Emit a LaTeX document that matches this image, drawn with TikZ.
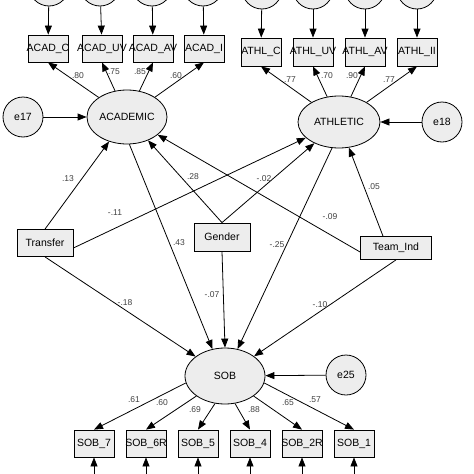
\documentclass[tikz,border=0pt]{standalone}
\usepackage{fontspec}
\setmainfont{Liberation Sans}
\usetikzlibrary{arrows.meta,shapes.geometric}
\begin{document}
\begin{tikzpicture}[x=1pt,y=-1pt,
  obs/.style={draw,line width=0.8pt,fill=black!7,rectangle,inner sep=0pt,minimum width=40pt,minimum height=27pt,font=\fontsize{10.5}{12}\selectfont},
  lat/.style={draw,line width=0.8pt,fill=black!7,ellipse,inner sep=0pt,font=\fontsize{10.5}{12}\selectfont},
  err/.style={draw,line width=0.8pt,fill=black!7,circle,inner sep=0pt,minimum size=40pt,font=\fontsize{10.5}{12}\selectfont},
  path/.style={line width=0.8pt,-{Triangle[length=9pt,width=7pt]}},
  coef/.style={font=\fontsize{8.5}{9}\selectfont,text=black!75,inner sep=0pt}]
\useasboundingbox (0,0) rectangle (474,474);
\clip (0,0) rectangle (474,474);
% latent variables
\node[lat,minimum width=80pt,minimum height=54pt] (acad) at (127,117) {ACADEMIC};
\node[lat,minimum width=82pt,minimum height=52pt] (athl) at (339,122) {ATHLETIC};
\node[lat,minimum width=80pt,minimum height=56pt] (sob) at (225,376) {SOB};
% error terms
\node[err] (e17) at (23,117) {e17};
\node[err] (e18) at (442,122) {e18};
\node[err] (e25) at (346,375) {e25};
% exogenous
\node[obs,minimum width=56pt] (transfer) at (45,243) {\makebox[0pt]{Transfer}};
\node[obs,minimum width=56pt,minimum height=28pt] (gender) at (222,237) {\makebox[0pt]{Gender}};
\node[obs,minimum width=71pt,minimum height=23pt] (team) at (396,248) {\makebox[0pt]{Team\_Ind}};
% ACAD indicators
\node[obs] (ac) at (48,48.5) {\makebox[0pt]{ACAD\_C}};
\node[obs] (auv) at (102,48.5) {\makebox[0pt]{ACAD\_UV}};
\node[obs] (aav) at (153,48.5) {\makebox[0pt]{ACAD\_AV}};
\node[obs] (ai) at (204,48.5) {\makebox[0pt]{ACAD\_I}};
% ATHL indicators
\node[obs,minimum height=28pt] (tc) at (261,52) {\makebox[0pt]{ATHL\_C}};
\node[obs,minimum height=28pt] (tuv) at (313,52) {\makebox[0pt]{ATHL\_UV}};
\node[obs,minimum height=28pt] (tav) at (365,52) {\makebox[0pt]{ATHL\_AV}};
\node[obs,minimum height=28pt] (tii) at (417,52) {\makebox[0pt]{ATHL\_II}};
% SOB indicators
\node[obs] (s7) at (94,443.5) {\makebox[0pt]{SOB\_7}};
\node[obs] (s6) at (146,443.5) {\makebox[0pt]{SOB\_6R}};
\node[obs] (s5) at (198,443.5) {\makebox[0pt]{SOB\_5}};
\node[obs] (s4) at (250,443.5) {\makebox[0pt]{SOB\_4}};
\node[obs] (s2) at (302,443.5) {\makebox[0pt]{SOB\_2R}};
\node[obs] (s1) at (354,443.5) {\makebox[0pt]{SOB\_1}};
% indicator error terms (top, partly visible)
\node[err] (ea1) at (49,-14) {};
\node[err] (ea2) at (100,-14) {};
\node[err] (ea3) at (152,-14) {};
\node[err] (ea4) at (203,-14) {};
\node[err] (et1) at (262,-11) {};
\node[err] (et2) at (313,-11) {};
\node[err] (et3) at (365,-11) {};
\node[err] (et4) at (417,-11) {};
\foreach \e/\b in {ea1/ac,ea2/auv,ea3/aav,ea4/ai,et1/tc,et2/tuv,et3/tav,et4/tii}
  \draw[path] (\e) -- (\b);
% bottom error arrows (sources off-picture)
\foreach \b/\x in {s7/94,s6/146,s5/198,s4/250,s2/302,s1/354}{
  \coordinate (f\b) at (\x,476);
  \draw[path] (f\b) -- (\b);}
% loadings
\foreach \b in {ac,auv,aav,ai} \draw[path] (acad) -- (\b.south);
\foreach \b in {tc,tuv,tav,tii} \draw[path] (athl) -- (\b.south);
\foreach \b/\a in {s7/190,s6/215,s5/250,s4/290,s2/325,s1/350} \draw[path] (sob.\a) -- (\b.north);
% residuals
\draw[path] (e17) -- (acad);
\draw[path] (e18) -- (athl);
\draw[path] (e25) -- (sob);
% structural paths
\coordinate (tw) at ([yshift=-4pt]team.west);
\coordinate (tn) at ([xshift=-13pt]team.north);
\coordinate (trn) at ([yshift=-5pt]transfer.east);
\draw[path] (transfer.north) -- (acad);
\draw[path] (trn) -- (athl);
\draw[path] (gender.north) -- (acad);
\draw[path] (gender.north) -- (athl);
\draw[path] (tw) -- (acad);
\draw[path] (tn) -- (athl);
\draw[path] (acad.275) -- (sob.115);
\draw[path] (athl.255) -- (sob.65);
\draw[path] (gender.south) -- (sob.north);
\draw[path] (transfer.south) -- (sob);
\draw[path] (team.south) -- (sob);
% coefficients
\node[coef] (l1) at (78,76) {.80};
\node[coef] (l2) at (114,72) {.75};
\node[coef] (l3) at (140,72) {.85};
\node[coef] (l4) at (176,76) {.60};
\node[coef] (l5) at (290,80) {.77};
\node[coef] (l6) at (327,76) {.70};
\node[coef] (l7) at (352,76) {.90};
\node[coef] (l8) at (389,80) {.77};
\node[coef] (l9) at (68,179) {.13};
\node[coef] (l10) at (115,213) {-.11};
\node[coef] (l11) at (193,177) {.28};
\node[coef] (l12) at (264,179) {-.02};
\node[coef] (l13) at (330,217) {-.09};
\node[coef] (l14) at (374,187) {.05};
\node[coef] (l15) at (179,243) {.43};
\node[coef] (l16) at (277,245) {-.25};
\node[coef] (l17) at (212,295) {-.07};
\node[coef] (l18) at (125,303) {-.18};
\node[coef] (l19) at (320,305) {-.10};
\node[coef] (l20) at (134,400) {.61};
\node[coef] (l21) at (162,403) {.60};
\node[coef] (l22) at (195,410) {.69};
\node[coef] (l23) at (254,410) {.88};
\node[coef] (l24) at (288,403) {.65};
\node[coef] (l25) at (315,400) {.57};
\end{tikzpicture}
\end{document}
